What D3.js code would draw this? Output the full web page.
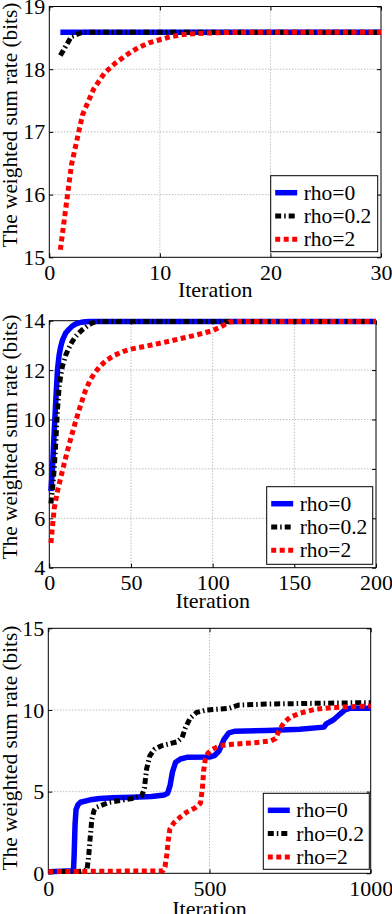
<!DOCTYPE html>
<html>
<head>
<meta charset="utf-8">
<script src="https://cdn.jsdelivr.net/npm/d3@7"></script>
<style>
  html, body { margin: 0; padding: 0; background: #fff; }
  svg { display: block; }
  svg text { font-family: "Liberation Serif", "Tinos", "Times New Roman", "Nimbus Roman", "DejaVu Serif", serif !important; fill: #000; }
</style>
</head>
<body>
<svg id="chart" width="392" height="914"></svg>
<script>
// ---------- DATA ----------
const seriesNames = ["rho=0", "rho=0.2", "rho=2"];

// Panel 1 (iterations 1..30)
const p1Ticks = { x: [0, 10, 20, 30], y: [15, 16, 17, 18, 19] };
const p1X0 = [1, 2, 3, 4, 5, 6, 7, 8, 9, 10, 11, 12, 13, 14, 15, 16, 17, 18, 19, 20, 21, 22, 23, 24, 25, 26, 27, 28, 29, 30];
const p1Y0 = [18.59, 18.59, 18.59, 18.59, 18.59, 18.59, 18.59, 18.59, 18.59, 18.59, 18.59, 18.59, 18.59, 18.59, 18.59, 18.59, 18.59, 18.59, 18.59, 18.59, 18.59, 18.59, 18.59, 18.59, 18.59, 18.59, 18.59, 18.59, 18.59, 18.59];
const p1X1 = [1, 2, 3, 4, 5, 6, 7, 8, 9, 10, 11, 12, 13, 14, 15, 16, 17, 18, 19, 20, 21, 22, 23, 24, 25, 26, 27, 28, 29, 30];
const p1Y1 = [18.22, 18.52, 18.59, 18.59, 18.59, 18.59, 18.59, 18.59, 18.59, 18.59, 18.59, 18.59, 18.59, 18.59, 18.59, 18.59, 18.59, 18.59, 18.59, 18.59, 18.59, 18.59, 18.59, 18.59, 18.59, 18.59, 18.59, 18.59, 18.59, 18.59];
const p1X2 = [1, 2, 3, 4, 5, 6, 7, 8, 9, 10, 11, 12, 13, 14, 15, 16, 17, 18, 19, 20, 21, 22, 23, 24, 25, 26, 27, 28, 29, 30];
const p1Y2 = [15.12, 16.47, 17.27, 17.68, 17.94, 18.10, 18.23, 18.34, 18.42, 18.47, 18.52, 18.55, 18.565, 18.575, 18.58, 18.585, 18.588, 18.59, 18.59, 18.59, 18.59, 18.59, 18.59, 18.59, 18.59, 18.59, 18.59, 18.59, 18.59, 18.59];

// Panel 2 (iterations 1..200)
const p2Ticks = { x: [0, 50, 100, 150, 200], y: [4, 6, 8, 10, 12, 14] };
const p2X0 = [1, 2, 3, 4, 5, 6, 7, 8, 9, 10, 12, 14, 16, 18, 20, 22, 25, 30, 200];
const p2Y0 = [7.1, 8.1, 9.5, 10.8, 12.0, 12.6, 12.95, 13.2, 13.35, 13.5, 13.65, 13.78, 13.86, 13.91, 13.94, 13.96, 13.97, 13.97, 13.97];
const p2X1 = [1, 2, 3, 4, 5, 6, 7, 8, 10, 12, 14, 16, 18, 20, 22, 24, 26, 28, 30, 200];
const p2Y1 = [6.6, 7.2, 8.0, 9.1, 10.4, 11.3, 11.8, 12.15, 12.6, 12.9, 13.15, 13.35, 13.5, 13.62, 13.72, 13.82, 13.9, 13.95, 13.97, 13.97];
const p2X2 = [1, 2, 3, 5, 7, 10, 13, 16, 19, 22, 25, 28, 31, 35, 40, 45, 50, 60, 70, 80, 90, 100, 105, 110, 115, 200];
const p2Y2 = [5.0, 5.7, 6.4, 7.1, 7.65, 8.45, 9.2, 9.9, 10.55, 11.15, 11.6, 11.9, 12.15, 12.4, 12.6, 12.75, 12.85, 12.98, 13.12, 13.27, 13.42, 13.6, 13.75, 13.95, 13.97, 13.97];

// Panel 3 (iterations 0..1000)
const p3Ticks = { x: [0, 500, 1000], y: [0, 5, 10, 15] };
const p3X0 = [0, 78, 80, 83, 86, 92, 100, 130, 160, 200, 260, 320, 360, 370, 378, 385, 395, 410, 430, 500, 515, 530, 545, 560, 580, 680, 780, 855, 862, 885, 905, 920, 935, 1000];
const p3Y0 = [0.1, 0.15, 1.0, 3.0, 3.9, 4.2, 4.35, 4.5, 4.58, 4.62, 4.65, 4.7, 4.8, 4.9, 5.4, 6.2, 6.8, 7.0, 7.1, 7.12, 7.2, 7.5, 8.2, 8.6, 8.7, 8.75, 8.82, 8.95, 9.15, 9.4, 9.75, 10.0, 10.1, 10.1];
const p3X1 = [0, 100, 120, 125, 130, 135, 142, 150, 190, 260, 290, 298, 305, 315, 330, 350, 380, 400, 415, 425, 440, 460, 490, 560, 590, 680, 800, 1000];
const p3Y1 = [0.1, 0.12, 0.2, 1.0, 2.2, 3.3, 3.85, 4.05, 4.35, 4.58, 4.75, 5.2, 6.4, 7.2, 7.6, 7.8, 7.95, 8.05, 8.3, 8.9, 9.5, 9.85, 10.0, 10.1, 10.3, 10.36, 10.4, 10.45];
const p3X2 = [0, 355, 362, 368, 372, 377, 390, 410, 430, 455, 472, 478, 482, 487, 495, 505, 530, 570, 630, 690, 705, 715, 730, 750, 780, 830, 880, 940, 1000];
const p3Y2 = [0.1, 0.15, 0.4, 1.2, 2.0, 2.7, 3.1, 3.45, 3.75, 4.0, 4.3, 5.2, 6.3, 7.0, 7.35, 7.55, 7.8, 7.9, 7.98, 8.1, 8.25, 8.7, 9.2, 9.55, 9.8, 10.05, 10.15, 10.2, 10.25];

const xLabel = "Iteration";
const yLabel = "The weighted sum rate (bits)";

// ---------- STYLES ----------
const FONT = '"Liberation Serif", "Tinos", "Times New Roman", "Nimbus Roman", "DejaVu Serif", serif';
const styles = [
  { color: "#0000ff", width: 5.5, dash: null },
  { color: "#000000", width: 5, dash: "6,3,1.5,3" },
  { color: "#ff0000", width: 5, dash: "5,3.5" }
];

// ---------- LAYOUT ----------
const panels = [
  { left: 49.3, right: 381, top: 6.5, bottom: 257.3, xDom: [0, 30], yDom: [15, 19], ticks: p1Ticks,
    series: [[p1X0, p1Y0], [p1X1, p1Y1], [p1X2, p1Y2]],
    legend: { x: 270.7, y: 175.7, w: 107, h: 76 }, ylabY: 125, xlabBase: 297 },
  { left: 49.3, right: 376, top: 320.7, bottom: 567.7, xDom: [0, 200], yDom: [4, 14], ticks: p2Ticks,
    series: [[p2X0, p2Y0], [p2X1, p2Y1], [p2X2, p2Y2]],
    legend: { x: 266.7, y: 486.7, w: 106, h: 77.6 }, ylabY: 437, xlabBase: 608 },
  { left: 48.3, right: 370.7, top: 628.3, bottom: 873.3, xDom: [0, 1000], yDom: [0, 15], ticks: p3Ticks,
    series: [[p3X0, p3Y0], [p3X1, p3Y1], [p3X2, p3Y2]],
    legend: { x: 263.3, y: 793.3, w: 106, h: 76 }, ylabY: 748, xlabBase: 916 }
];

const svg = d3.select("#chart");
const FS = 22;

panels.forEach((p) => {
  const x = d3.scaleLinear().domain(p.xDom).range([p.left, p.right]);
  const y = d3.scaleLinear().domain(p.yDom).range([p.bottom, p.top]);
  const g = svg.append("g");

  // grid
  g.selectAll(".gx").data(p.ticks.x.filter(v => v !== p.xDom[0] && v !== p.xDom[1])).enter()
    .append("line").attr("x1", d => x(d)).attr("x2", d => x(d)).attr("y1", p.top).attr("y2", p.bottom)
    .attr("stroke", "#8a8a8a").attr("stroke-width", 0.8).attr("stroke-dasharray", "1,2");
  g.selectAll(".gy").data(p.ticks.y.filter(v => v !== p.yDom[0] && v !== p.yDom[1])).enter()
    .append("line").attr("y1", d => y(d)).attr("y2", d => y(d)).attr("x1", p.left).attr("x2", p.right)
    .attr("stroke", "#8a8a8a").attr("stroke-width", 0.8).attr("stroke-dasharray", "1,2");

  // axes (inward ticks) via d3 axes
  const tl = 4;
  g.append("g").attr("transform", `translate(0,${p.bottom})`).attr("font-family", FONT)
    .call(d3.axisBottom(x).tickValues(p.ticks.x).tickSize(-tl).tickPadding(tl + 3).tickFormat(d3.format("d")))
    .call(a => { a.select(".domain").remove(); a.selectAll("text").attr("font-size", FS).style("font-family", FONT).attr("fill", "#000"); });
  g.append("g").attr("transform", `translate(0,${p.top})`)
    .call(d3.axisTop(x).tickValues(p.ticks.x).tickSize(-tl).tickFormat(""))
    .call(a => a.select(".domain").remove());
  g.append("g").attr("transform", `translate(${p.left},0)`).attr("font-family", FONT)
    .call(d3.axisLeft(y).tickValues(p.ticks.y).tickSize(-tl).tickFormat(d3.format("d")))
    .call(a => { a.select(".domain").remove(); a.selectAll("text").attr("font-size", FS).style("font-family", FONT).attr("x", -4).attr("dy", "0.32em").attr("fill", "#000"); });
  g.append("g").attr("transform", `translate(${p.right},0)`)
    .call(d3.axisRight(y).tickValues(p.ticks.y).tickSize(-tl).tickFormat(""))
    .call(a => a.select(".domain").remove());
  g.selectAll(".tick line").attr("stroke", "#000").attr("stroke-width", 1);

  // box
  g.append("rect").attr("x", p.left).attr("y", p.top).attr("width", p.right - p.left).attr("height", p.bottom - p.top)
    .attr("fill", "none").attr("stroke", "#000").attr("stroke-width", 1);

  // lines
  p.series.forEach((s, si) => {
    const pts = s[0].map((xv, i) => [xv, s[1][i]]);
    const line = d3.line().x(d => x(d[0])).y(d => y(d[1]));
    const st = styles[si];
    g.append("path").attr("d", line(pts)).attr("fill", "none")
      .attr("stroke", st.color).attr("stroke-width", st.width)
      .attr("stroke-dasharray", st.dash).attr("stroke-linejoin", "round");
  });

  // legend
  const L = p.legend;
  const lg = g.append("g");
  lg.append("rect").attr("x", L.x).attr("y", L.y).attr("width", L.w).attr("height", L.h)
    .attr("fill", "#fff").attr("stroke", "#000").attr("stroke-width", 1);
  seriesNames.forEach((name, si) => {
    const cy = L.y + 17 + si * 23.3;
    const st = styles[si];
    lg.append("line").attr("x1", L.x + 4.5).attr("x2", L.x + 26.5).attr("y1", cy).attr("y2", cy)
      .attr("stroke", st.color).attr("stroke-width", st.width).attr("stroke-dasharray", st.dash);
    lg.append("text").attr("x", L.x + 33).attr("y", cy).attr("dy", "0.33em")
      .attr("font-size", 21.5).style("font-family", FONT).text(name);
  });

  // axis labels
  g.append("text").attr("x", (p.left + p.right) / 2).attr("y", p.xlabBase).attr("text-anchor", "middle")
    .attr("font-size", FS).style("font-family", FONT).text(xLabel);
  g.append("text").attr("transform", `translate(17,${p.ylabY}) rotate(-90)`).attr("text-anchor", "middle")
    .attr("font-size", 21.3).style("font-family", FONT).text(yLabel);
});
</script>
</body>
</html>
